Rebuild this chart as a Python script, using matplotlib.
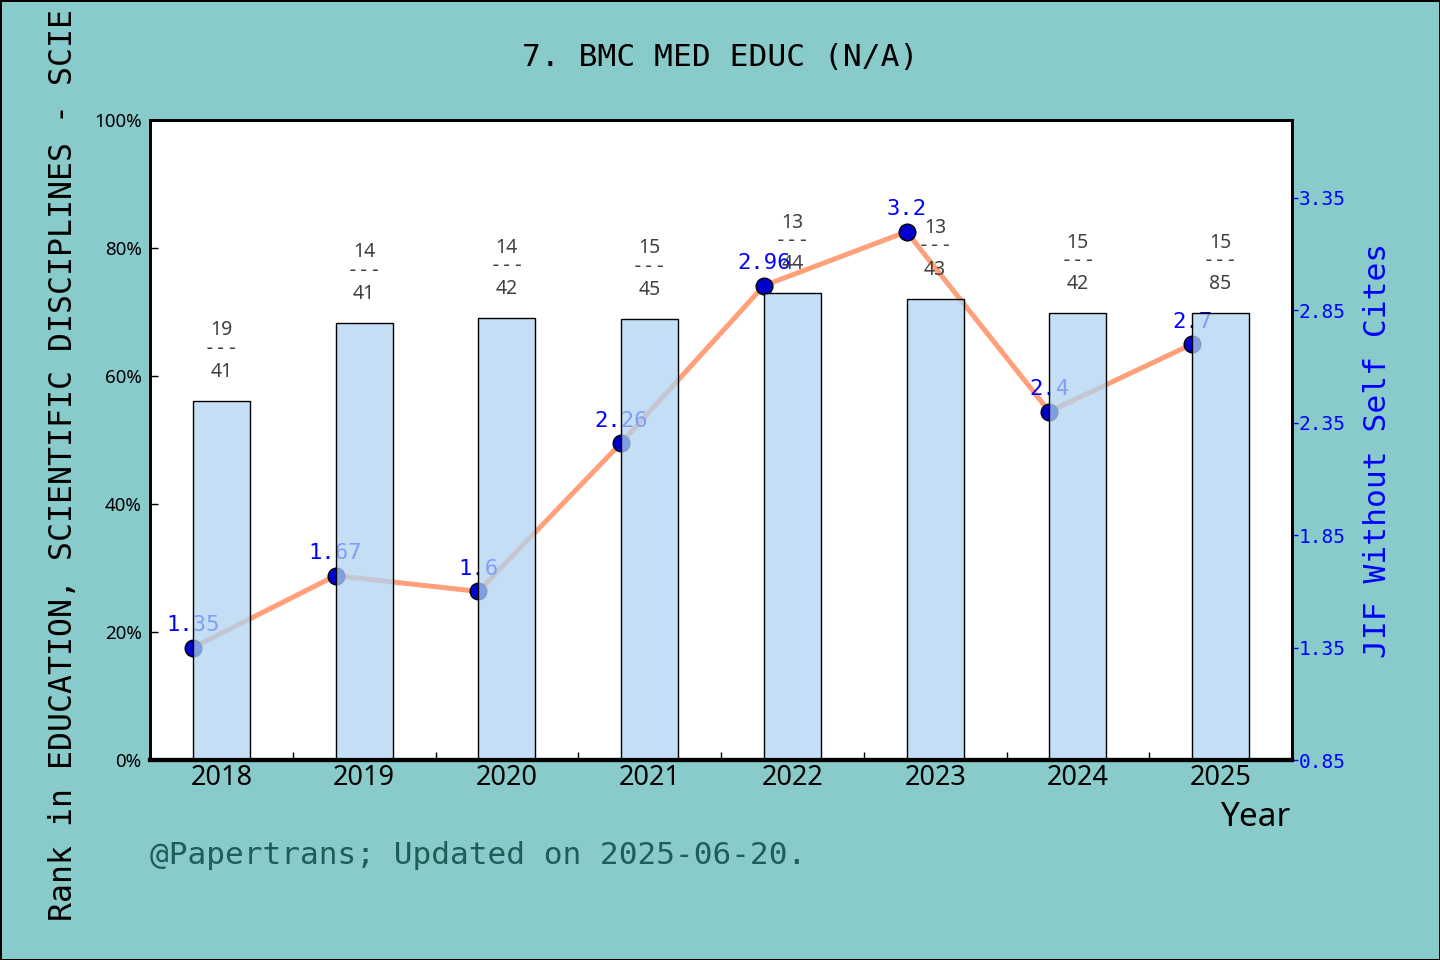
import numpy as np
import matplotlib
matplotlib.use("Agg")
import matplotlib.pyplot as plt
from matplotlib.ticker import FixedLocator, PercentFormatter

years = ["2018", "2019", "2020", "2021", "2022", "2023", "2024", "2025"]
rank_pct = [56.1, 68.3, 69.0, 68.9, 72.9, 72.1, 69.8, 69.8]
rank_num = [19, 14, 14, 15, 13, 13, 15, 15]
rank_total = [41, 41, 42, 45, 44, 43, 42, 85]
jif = [1.35, 1.67, 1.6, 2.26, 2.96, 3.2, 2.4, 2.7]

mono = "DejaVu Sans Mono"
bg = "#88CBCA"

fig = plt.figure(figsize=(14.4, 9.6), dpi=100, facecolor=bg,
                 edgecolor="black", linewidth=2)
ax = fig.add_axes([150 / 1440, 200 / 960, 1142 / 1440, 640 / 960])
ax2 = ax.twinx()

# bars go on top of the line, so the primary axes is raised
ax.set_zorder(ax2.get_zorder() + 1)
ax.patch.set_visible(False)
ax2.patch.set_visible(True)
ax2.patch.set_facecolor("white")

x = np.arange(len(years))
ax.bar(x, rank_pct, width=0.4, color=(176 / 255, 213 / 255, 242 / 255, 0.74),
       edgecolor="black", linewidth=1)
for xi, h, n, t in zip(x, rank_pct, rank_num, rank_total):
    ax.annotate(str(n), xy=(xi, h + 8.0), xytext=(0, 14), textcoords="offset points",
                ha="center", va="center", fontsize=14, color="#404040",
                family="Noto Sans")
    ax.annotate("---", xy=(xi, h + 8.0), xytext=(0, 1), textcoords="offset points",
                ha="center", va="center", fontsize=14, color="#404040",
                family=mono)
    ax.annotate(str(t), xy=(xi, h + 8.0), xytext=(0, -16), textcoords="offset points",
                ha="center", va="center", fontsize=14, color="#404040",
                family="Noto Sans")

# line points sit on the left edge of each bar
xl = x - 0.2
ax2.plot(xl, jif, color="#FFA07A", linewidth=3.6, marker="o",
         markersize=12, markerfacecolor="#0000CD", markeredgecolor="black",
         markeredgewidth=1, zorder=3)
for xi, v in zip(xl, jif):
    ax2.annotate(f"{v:g}", xy=(xi, v), xytext=(0, 9), textcoords="offset points",
                 ha="center", va="bottom", fontsize=16, color="#0000FF",
                 family=mono)

ax.set_xlim(-0.5, 7.5)
ax.set_ylim(0, 100)
ax2.set_ylim(0.85, 0.85 + 640 / 224.8)

ax.set_xticks(x)
ax.set_xticklabels(years, fontsize=19.5, family="Noto Sans")
ax.xaxis.set_minor_locator(FixedLocator(x[:-1] + 0.5))
ax.tick_params(axis="x", which="major", length=0, pad=3)
ax.tick_params(axis="x", which="minor", direction="in", length=6, width=1)

ax.set_yticks([0, 20, 40, 60, 80, 100])
ax.yaxis.set_major_formatter(PercentFormatter(decimals=0))
ax.tick_params(axis="y", direction="in", length=6, width=1, labelsize=13.5,
               pad=6)
for lab in ax.get_yticklabels():
    lab.set_family("Noto Sans")

jif_ticks = [0.85, 1.35, 1.85, 2.35, 2.85, 3.35]
ax2.set_yticks(jif_ticks)
ax2.set_yticklabels([f"{t:.2f}" for t in jif_ticks], family=mono,
                    fontsize=14, color="#0000FF")
ax2.tick_params(axis="y", direction="out", length=4, width=1, colors="#0000FF",
                pad=1)

for a in (ax, ax2):
    for s in a.spines.values():
        s.set_linewidth(2)
    a.spines["bottom"].set_linewidth(3)

ax.set_ylabel("Rank in EDUCATION, SCIENTIFIC DISCIPLINES - SCIE",
              fontsize=22.7, family=mono)
ax.yaxis.set_label_coords(-0.062, 0.461)
ax2.set_ylabel("JIF Without Self Cites", fontsize=22.5, family=mono,
               color="#0000FF")
ax2.yaxis.set_label_coords(1.062, 0.484)

fig.text(0.5, 1 - 57 / 960, "7. BMC MED EDUC (N/A)", ha="center",
         va="center", fontsize=22.5, family=mono)
fig.text(1290 / 1440, 1 - 817 / 960, "Year", ha="right", va="center",
         fontsize=24, family="Noto Sans")
fig.text(150 / 1440, 1 - 855 / 960, "@Papertrans; Updated on 2025-06-20.",
         ha="left", va="center", fontsize=22.4, family=mono, color="#1E5E58")

fig.savefig("out.png", dpi=100, facecolor=bg, edgecolor="black")
